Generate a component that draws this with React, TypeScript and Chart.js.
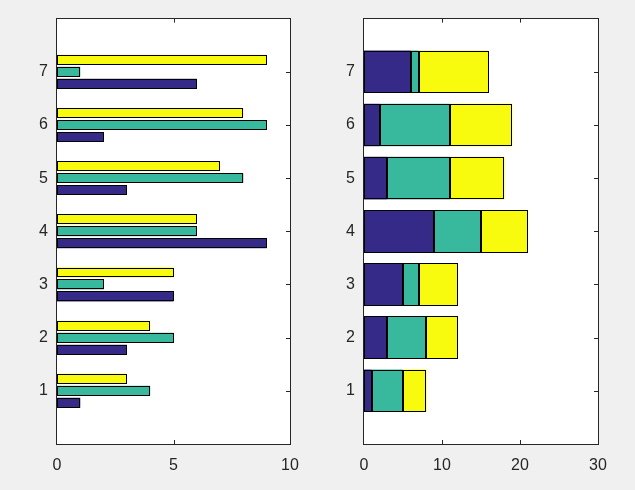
import React, { useEffect, useRef } from "react";
import { Chart, registerables } from "chart.js";

Chart.register(...registerables);

const categories = [1, 2, 3, 4, 5, 6, 7];
const series1 = [1, 3, 5, 9, 3, 2, 6];
const series2 = [4, 5, 2, 6, 8, 9, 1];
const series3 = [3, 4, 5, 6, 7, 8, 9];
const seriesColors = ["#352A87", "#38B99E", "#F9FB0E"];
const yTicks = [1, 2, 3, 4, 5, 6, 7];
const leftXTicks = [0, 5, 10];
const rightXTicks = [0, 10, 20, 30];

const AXIS_COLOR = "#262626";
const FONT = { family: "'Liberation Sans', Arial, sans-serif", size: 16 };

const toPoints = (vals: number[]) => vals.map((v, i) => ({ x: v, y: categories[i] }));

const framePlugin = {
  id: "matlabFrame",
  beforeDatasetsDraw(chart: any) {
    const { ctx, chartArea: a, scales } = chart;
    ctx.save();
    ctx.fillStyle = "#ffffff";
    ctx.fillRect(a.left, a.top, a.right - a.left, a.bottom - a.top);
    ctx.strokeStyle = AXIS_COLOR;
    ctx.lineWidth = 1;
    const tl = 4;
    ctx.beginPath();
    scales.x.ticks.forEach((t: any) => {
      const px = Math.round(scales.x.getPixelForValue(t.value)) + 0.5;
      if (px < a.left + 2 || px > a.right - 2) return;
      ctx.moveTo(px, a.bottom);
      ctx.lineTo(px, a.bottom - tl);
      ctx.moveTo(px, a.top);
      ctx.lineTo(px, a.top + tl);
    });
    scales.y.ticks.forEach((t: any) => {
      const py = Math.round(scales.y.getPixelForValue(t.value)) + 0.5;
      if (py < a.top + 2 || py > a.bottom - 2) return;
      ctx.moveTo(a.left, py);
      ctx.lineTo(a.left + tl, py);
      ctx.moveTo(a.right, py);
      ctx.lineTo(a.right - tl, py);
    });
    ctx.stroke();
    ctx.restore();
  },
  afterDatasetsDraw(chart: any) {
    const { ctx, chartArea: a } = chart;
    ctx.save();
    // crisp, pixel-aligned bar outlines based on the library's bar elements
    chart.data.datasets.forEach((ds: any, di: number) => {
      const meta = chart.getDatasetMeta(di);
      meta.data.forEach((el: any) => {
        const p = el.getProps(["x", "y", "base", "height"], true);
        const l = Math.round(Math.min(p.x, p.base));
        const r = Math.round(Math.max(p.x, p.base));
        const t = Math.round(p.y - p.height / 2);
        const b = Math.round(p.y + p.height / 2);
        ctx.fillStyle = ds.backgroundColor;
        ctx.fillRect(l, t, r - l, b - t);
        ctx.strokeStyle = "#000000";
        ctx.lineWidth = 1;
        ctx.strokeRect(l + 0.5, t + 0.5, r - l - 1, b - t - 1);
      });
    });
    ctx.strokeStyle = AXIS_COLOR;
    ctx.lineWidth = 1;
    const l = Math.round(a.left) - 0.5;
    const t = Math.round(a.top) - 0.5;
    const r = Math.round(a.right) + 0.5;
    const b = Math.round(a.bottom) + 0.5;
    ctx.strokeRect(l, t, r - l, b - t);
    ctx.restore();
  },
};

function makeConfig(stacked: boolean, xTicks: number[], yWidth: number, padRight: number) {
  const base = [series1, series2, series3].map((s, i) => ({
    label: `Series ${i + 1}`,
    data: toPoints(s),
    backgroundColor: seriesColors[i],
    borderColor: "#000000",
    borderWidth: 0,
    borderSkipped: false,
    inflateAmount: 0,
    categoryPercentage: stacked ? 1 : 0.676,
    barPercentage: stacked ? 0.8 : 0.833,
  }));
  const datasets = stacked ? base : base.slice().reverse();
  return {
    type: "bar",
    data: { datasets },
    plugins: [framePlugin],
    options: {
      indexAxis: "y",
      responsive: false,
      animation: false,
      layout: { padding: { left: 0, top: 17, right: padRight, bottom: 0 } },
      plugins: { legend: { display: false }, tooltip: { enabled: false } },
      scales: {
        x: {
          type: "linear",
          stacked,
          min: xTicks[0],
          max: xTicks[xTicks.length - 1],
          grid: { display: false, drawTicks: false },
          border: { display: false },
          afterBuildTicks: (s: any) => {
            s.ticks = xTicks.map((v) => ({ value: v }));
          },
          afterFit: (s: any) => {
            s.height = 46;
          },
          ticks: { color: AXIS_COLOR, font: FONT, padding: 12, maxRotation: 0, autoSkip: false },
        },
        y: {
          type: "linear",
          stacked,
          offset: false,
          min: 0,
          max: 8,
          grid: { display: false, drawTicks: false },
          border: { display: false },
          afterBuildTicks: (s: any) => {
            s.ticks = yTicks.map((v) => ({ value: v }));
          },
          afterFit: (s: any) => {
            s.width = yWidth;
          },
          ticks: { color: AXIS_COLOR, font: FONT, padding: 9, autoSkip: false },
        },
      },
    },
  } as any;
}

function BarPanel(props: { stacked: boolean; xTicks: number[]; left: number; width: number; yWidth: number; padRight: number }) {
  const ref = useRef<HTMLCanvasElement | null>(null);
  useEffect(() => {
    if (!ref.current) return;
    const chart = new Chart(ref.current, makeConfig(props.stacked, props.xTicks, props.yWidth, props.padRight));
    return () => chart.destroy();
  }, []);
  return (
    <canvas
      ref={ref}
      width={props.width}
      height={490}
      style={{ position: "absolute", left: props.left, top: 0, width: props.width, height: 490 }}
    />
  );
}

export default function App() {
  return (
    <div style={{ position: "fixed", left: 0, top: 0, width: 635, height: 490, background: "#f0f0f0", overflow: "hidden" }}>
      <BarPanel stacked={false} xTicks={leftXTicks} left={0} width={317} yWidth={57} padRight={27} />
      <BarPanel stacked={true} xTicks={rightXTicks} left={317} width={318} yWidth={47} padRight={37} />
    </div>
  );
}
